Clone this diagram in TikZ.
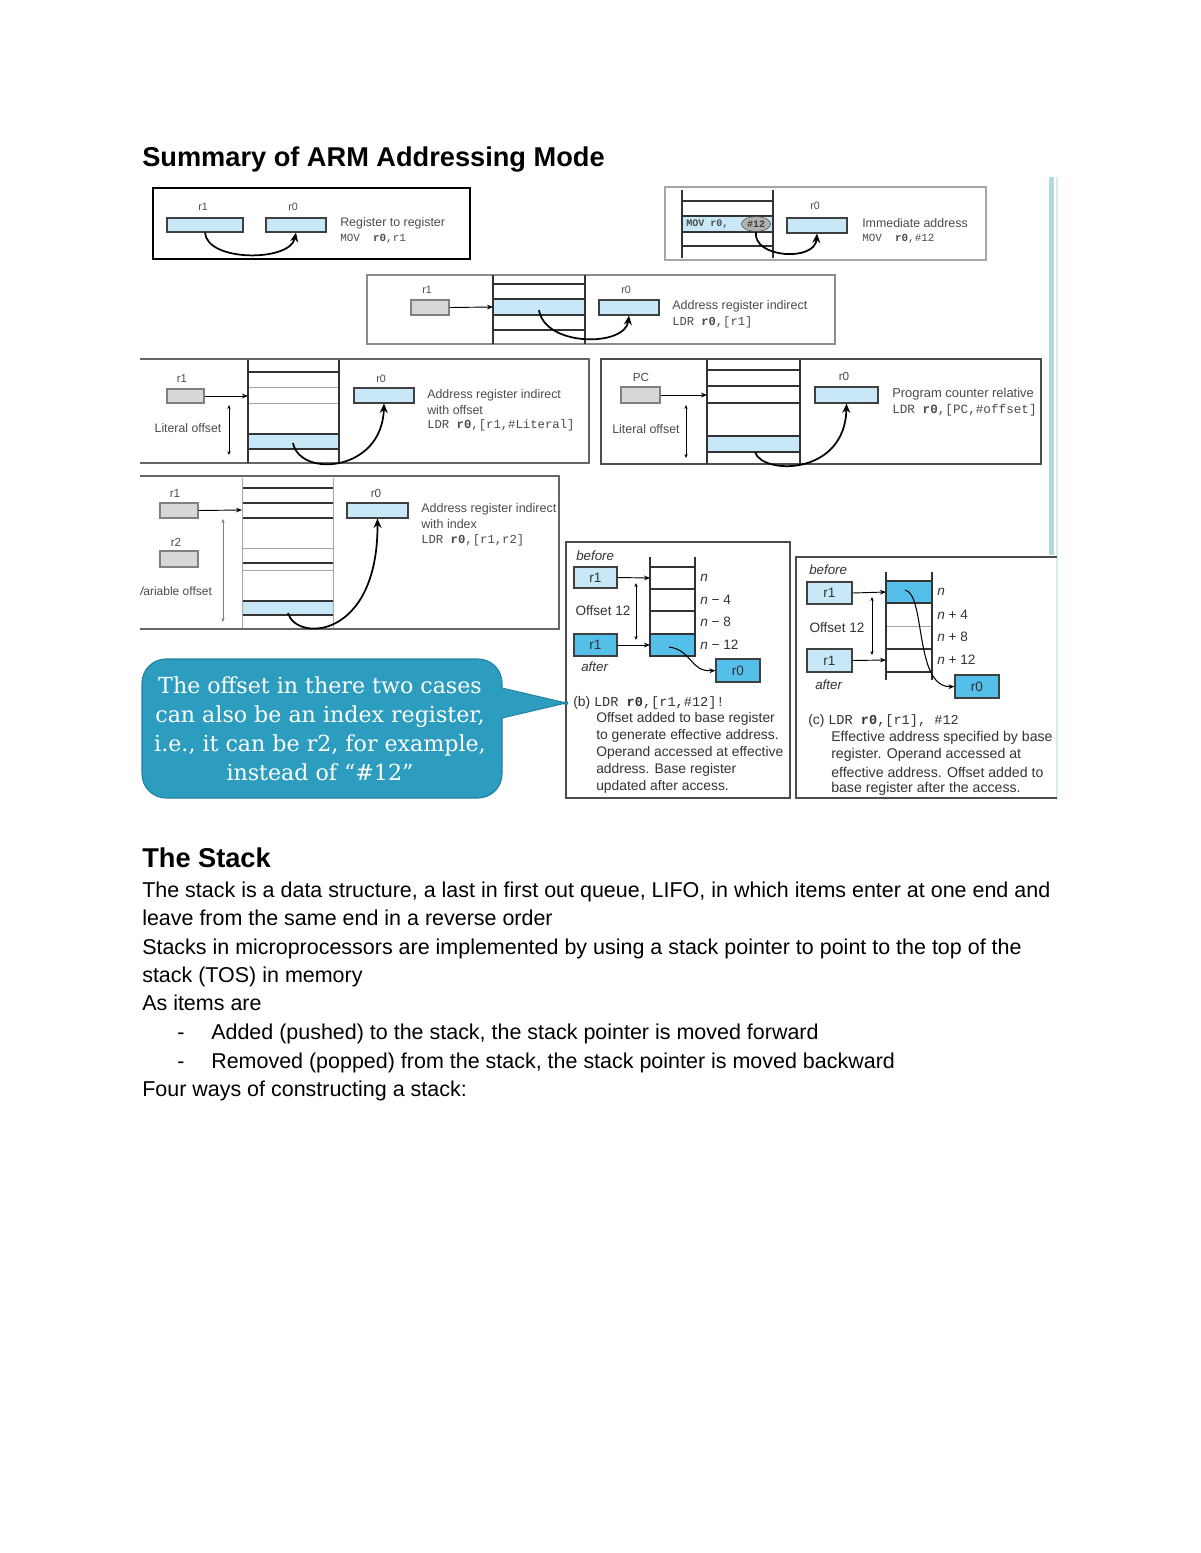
\documentclass[tikz,border=0pt]{standalone}
\usepackage{fontspec}
\newfontfamily\sa{Liberation Sans}
\newfontfamily\mo{Liberation Mono}
\newfontfamily\cs{DejaVu Serif}
\usetikzlibrary{arrows.meta,fit,shapes.geometric}
\definecolor{lb}{RGB}{200,232,248}
\definecolor{bb}{RGB}{84,192,234}
\definecolor{rg}{RGB}{215,215,215}
\definecolor{cal}{RGB}{44,157,191}
\definecolor{calb}{RGB}{34,130,160}
\definecolor{txt}{RGB}{75,75,75}
\definecolor{barc}{RGB}{178,216,226}
\definecolor{barl}{RGB}{214,236,242}
\tikzset{
 reg/.style={draw=black!75, line width=0.9pt, inner sep=0pt, fill=lb},
 greg/.style={reg, fill=rg, draw=black!50},
 breg/.style={reg, fill=bb},
 lbl/.style={inner sep=0pt, font=\sa\fontsize{8}{9}\selectfont, text=txt},
 desc/.style={anchor=west, inner sep=0pt, font=\sa\fontsize{9.3}{10}\selectfont, text=txt},
 code/.style={anchor=west, inner sep=0pt, font=\mo\fontsize{8.2}{10}\selectfont, text=txt},
 codeb/.style={code, font=\mo\fontsize{9.2}{10}\selectfont},
 bdesc/.style={anchor=west, inner sep=0pt, font=\sa\fontsize{10.4}{12}\selectfont, text=black!80},
 blbl/.style={lbl, font=\sa\fontsize{10.2}{11}\selectfont, text=black!80},
 memline/.style={line width=1.1pt, draw=black!80},
 thinmem/.style={line width=0.6pt, draw=black!35},
 curv/.style={line width=1.3pt, -{Stealth[length=7pt,width=6pt]}},
 ptr/.style={line width=0.7pt, -{Stealth[length=4.5pt,width=3.5pt]}},
 dbl/.style={line width=0.5pt, {Stealth[length=3pt,width=2.5pt]}-{Stealth[length=3pt,width=2.5pt]}},
 panelbox/.style={draw=black!60, line width=0.8pt},
 body/.style={anchor=base west, inner sep=0pt, font=\sa\fontsize{16.1}{19}\selectfont},
 head/.style={anchor=base west, inner sep=0pt, font=\sa\bfseries\fontsize{20.4}{24}\selectfont},
}
\begin{document}
\begin{tikzpicture}[x=0.75pt,y=-0.75pt]
\useasboundingbox (0,0) rectangle (1200,1553);
\fill[white] (0,0) rectangle (1200,1553);

% title
\node[head] (title) at (142,166) {Summary of ARM Addressing Mode};

% right bars
\fill[barc] (1049,177) rectangle (1054,555);
\draw[barl, line width=1.2pt] (1057,177) -- (1057,800);

% ---------- panel 1: register to register
\draw[draw=black, line width=1pt] (153,188) rectangle (470,259);
\node[lbl] (l1a) at (203,207) {r1};
\node[reg, fit={(167,218)(243,232)}] (R1a) {};
\node[lbl] (l0a) at (293,207) {r0};
\node[reg, fit={(266,218)(326,232)}] (R0a) {};
\draw[curv] (R1a.south) .. controls (207,262) and (290,262) .. (R0a.south);
\node[desc] (t1a) at (340,223) {Register to register};
\node[code] (c1a) at (340,239) {MOV\ \ \textbf{r0},r1};

% ---------- panel 2: immediate
\draw[panelbox, draw=black!35] (665,187) rectangle (986,260);
\fill[lb] (682,216) rectangle (773,232);
\foreach \yy in {201,216,232,246} \draw[memline] (682,\yy) -- (773,\yy);
\draw[memline] (682,190) -- (682,258);
\draw[memline] (773,190) -- (773,258);
\node[code, font=\mo\bfseries\fontsize{7.5}{9}\selectfont] (c2m) at (686,224) {MOV\ r0,};
\node[draw=black!70, fill=black!30, ellipse, inner sep=0.3pt, minimum width=22pt, minimum height=11pt, font=\mo\bfseries\fontsize{7.5}{9}\selectfont, text=black!75] (imm) at (756,224) {\#12};
\node[lbl] (l0b) at (815,206) {r0};
\node[reg, fit={(787,218)(847,233)}] (R0b) {};
\draw[curv] (imm.south) .. controls (752,258) and (815,262) .. (R0b.south);
\node[desc] (t2a) at (862,223) {Immediate address};
\node[code] (c2a) at (862,239) {MOV\ \ \textbf{r0},\#12};

% ---------- panel 3: address register indirect
\draw[panelbox, draw=black!45] (367,275) rectangle (835,344);
\fill[lb] (493,299) rectangle (585,315);
\foreach \yy in {284,299,315,330} \draw[memline] (493,\yy) -- (585,\yy);
\draw[memline] (493,275) -- (493,344);
\draw[memline] (585,275) -- (585,344);
\node[lbl] (l1c) at (427,290) {r1};
\node[greg, fit={(411,300)(449,315)}] (R1c) {};
\coordinate (m3) at (493,307);
\draw[ptr] (R1c.east) -- (m3);
\node[lbl] (l0c) at (626,290) {r0};
\node[reg, fit={(599,300)(659,315)}] (R0c) {};
\coordinate (s3) at (539,310);
\draw[curv] (s3) .. controls (545,347) and (625,347) .. (R0c.south);
\node[desc, font=\sa\fontsize{9.4}{10}\selectfont] (t3a) at (672,306) {Address register indirect};
\node[codeb, font=\mo\fontsize{9.1}{10}\selectfont] (c3a) at (672,322) {LDR \textbf{r0},[r1]};

% ---------- panel 4: indirect with offset
\draw[panelbox] (140,359) -- (589,359) -- (589,463) -- (140,463);
\fill[lb] (248,434) rectangle (339,449);
\foreach \yy in {372,434,449} \draw[memline] (248,\yy) -- (339,\yy);
\foreach \yy in {387,403} \draw[thinmem] (248,\yy) -- (339,\yy);
\draw[memline] (248,360) -- (248,463);
\draw[memline] (339,360) -- (339,463);
\node[lbl, font=\sa\fontsize{8.5}{9}\selectfont] (l1d) at (182,379) {r1};
\node[greg, fit={(167,389)(204,403)}] (R1d) {};
\coordinate (m4) at (248,396);
\draw[ptr] (R1d.east) -- (m4);
\coordinate (d4a) at (229,405); \coordinate (d4b) at (229,455);
\draw[dbl] (d4a) -- (d4b);
\node[lbl, font=\sa\fontsize{9.2}{9}\selectfont] (lo4) at (188,428) {Literal offset};
\node[lbl] (l0d) at (381,379) {r0};
\node[reg, fit={(354,388)(414,403)}] (R0d) {};
\coordinate (s4) at (293,443);
\draw[curv] (s4) .. controls (300,478) and (382,472) .. (R0d.south);
\node[desc] (t4a) at (427,395) {Address register indirect};
\node[desc] (t4b) at (427,410) {with offset};
\node[codeb] (c4a) at (427,425) {LDR \textbf{r0},[r1,\#Literal]};

% ---------- panel 5: PC relative
\draw[panelbox, draw=black!70] (601,359) rectangle (1041,464);
\fill[lb] (707,436) rectangle (800,452);
\foreach \yy in {370,386,403,436,452} \draw[memline] (707,\yy) -- (800,\yy);
\draw[memline] (707,360) -- (707,464);
\draw[memline] (800,360) -- (800,464);
\node[lbl, font=\sa\fontsize{8.8}{9}\selectfont] (lpc) at (641,377) {PC};
\node[greg, fit={(621,387)(660,403)}] (RPC) {};
\coordinate (m5) at (707,395);
\draw[ptr] (RPC.east) -- (m5);
\coordinate (d5a) at (686,405); \coordinate (d5b) at (686,458);
\draw[dbl] (d5a) -- (d5b);
\node[lbl, font=\sa\fontsize{9.3}{9}\selectfont] (lo5) at (646,429) {Literal offset};
\node[lbl, font=\sa\fontsize{8.8}{9}\selectfont] (l0e) at (844,376) {r0};
\node[reg, fit={(815,387)(878,403)}] (R0e) {};
\coordinate (s5) at (755,452);
\draw[curv] (s5) .. controls (762,475) and (845,476) .. (R0e.south);
\node[desc, font=\sa\fontsize{9.7}{10}\selectfont] (t5a) at (892,394) {Program counter relative};
\node[codeb, font=\mo\fontsize{9.5}{10}\selectfont] (c5a) at (892,410) {LDR \textbf{r0},[PC,\#offset]};

% ---------- panel 6: indirect with index
\draw[panelbox] (140,476) -- (559,476) -- (559,629) -- (140,629);
\fill[lb] (242,601) rectangle (333,615);
\foreach \yy in {488,503,518,563,601,615} \draw[memline] (242,\yy) -- (333,\yy);
\foreach \yy in {548,570} \draw[thinmem] (242,\yy) -- (333,\yy);
\draw[thinmem] (242,478) -- (242,628);
\draw[thinmem] (333,478) -- (333,628);
\node[lbl, font=\sa\fontsize{8.8}{9}\selectfont] (l1f) at (175,493) {r1};
\node[greg, fit={(160,503)(198,518)}] (R1f) {};
\coordinate (m6) at (242,510);
\draw[ptr] (R1f.east) -- (m6);
\node[lbl, font=\sa\fontsize{8.8}{9}\selectfont] (l2f) at (176,542) {r2};
\node[greg, fit={(160,551)(198,567)}] (R2f) {};
\coordinate (d6a) at (223,519); \coordinate (d6b) at (223,622);
\draw[dbl, draw=black!50, line width=0.4pt] (d6a) -- (d6b);
\begin{scope}
\clip (140,570) rectangle (240,610);
\node[lbl, anchor=west, font=\sa\fontsize{9}{9}\selectfont] (lo6) at (136,591) {Variable offset};
\end{scope}
\node[lbl, font=\sa\fontsize{8.8}{9}\selectfont] (l0f) at (376,493) {r0};
\node[reg, fit={(347,503)(408,518)}] (R0f) {};
\coordinate (s6) at (288,613);
\draw[curv] (s6) .. controls (296,642) and (378,640) .. (R0f.south);
\node[desc, font=\sa\fontsize{9.4}{10}\selectfont] (t6a) at (421,509) {Address register indirect};
\node[desc, font=\sa\fontsize{9.4}{10}\selectfont] (t6b) at (421,524) {with index};
\node[codeb] (c6a) at (421,540) {LDR \textbf{r0},[r1,r2]};

% ---------- panel (b)
\draw[draw=black!70, line width=1.1pt] (566,542) rectangle (790,798);
\node[blbl, anchor=west, font=\sa\itshape\fontsize{10}{11}\selectfont] (bfb) at (576,556) {before};
\node[reg, fit={(574,567)(617,588)}, label={[blbl]center:r1}] (Rb1) {};
\fill[bb] (650,634) rectangle (695,656);
\foreach \yy in {567,589,611,634,656} \draw[memline, line width=0.9pt] (650,\yy) -- (695,\yy);
\draw[memline, line width=0.9pt] (650,557) -- (650,657);
\draw[memline, line width=0.9pt] (695,557) -- (695,657);
\coordinate (mb1) at (650,578);
\coordinate (mb2) at (650,645);
\draw[ptr] (Rb1.east) -- (mb1);
\coordinate (db1) at (636,583); \coordinate (db2) at (636,640);
\draw[dbl] (db1) -- (db2);
\node[blbl] (ofb) at (603,611) {Offset 12};
\node[breg, fit={(574,634)(617,656)}, label={[blbl]center:r1}] (Rb2) {};
\draw[ptr] (Rb2.east) -- (mb2);
\node[blbl, anchor=west, font=\sa\itshape\fontsize{10}{11}\selectfont] (afb) at (581,667) {after};
\node[breg, fit={(716,659)(760,682)}, label={[blbl]center:r0}] (Rb0) {};
\coordinate (sb) at (669,647);
\draw[ptr, line width=0.8pt] (sb) .. controls (692,650) and (690,672) .. (Rb0.west);
\foreach \lab/\yy in {{\itshape n}/578,{\itshape n} − 4/600,{\itshape n} − 8/622,{\itshape n} − 12/645}
  \node[bdesc, font=\sa\fontsize{10.2}{11}\selectfont] at (700,\yy) {\lab};
\node[bdesc] (bt0) at (573,703) {(b) {\mo\fontsize{10.2}{11}\selectfont LDR \textbf{r0},[r1,\#12]!}};
\node[bdesc] (bt1) at (596,719) {Offset added to base register};
\node[bdesc] (bt2) at (596,736) {to generate effective address.};
\node[bdesc] (bt3) at (596,753) {Operand accessed at effective};
\node[bdesc] (bt4) at (596,770) {address. Base register};
\node[bdesc] (bt5) at (596,787) {updated after access.};

% ---------- panel (c)
\draw[draw=black!70, line width=1.1pt] (1057,557) -- (796,557) -- (796,798) -- (1057,798);
\node[blbl, anchor=west, font=\sa\itshape\fontsize{10}{11}\selectfont] (bfc) at (809,570) {before};
\node[reg, fit={(807,582)(852,604)}, label={[blbl]center:r1}] (Rc1) {};
\fill[bb] (886,581) rectangle (932,603);
\foreach \yy in {581,603,649,672} \draw[memline, line width=0.9pt] (886,\yy) -- (932,\yy);
\draw[thinmem] (886,626) -- (932,626);
\draw[memline, line width=0.9pt] (886,572) -- (886,680);
\draw[memline, line width=0.9pt] (932,572) -- (932,680);
\coordinate (mc1) at (886,592);
\coordinate (mc2) at (886,660);
\draw[ptr] (Rc1.east) -- (mc1);
\coordinate (dc1) at (872,597); \coordinate (dc2) at (872,655);
\draw[dbl] (dc1) -- (dc2);
\node[blbl] (ofc) at (837,628) {Offset 12};
\node[reg, fit={(807,649)(852,672)}, label={[blbl]center:r1}] (Rc2) {};
\draw[ptr] (Rc2.east) -- (mc2);
\node[blbl, anchor=west, font=\sa\itshape\fontsize{10}{11}\selectfont] (afc) at (815,685) {after};
\node[breg, fit={(955,675)(999,698)}, label={[blbl]center:r0}] (Rc0) {};
\coordinate (sc) at (905,590);
\draw[ptr, line width=0.8pt] (sc) .. controls (926,594) and (914,688) .. (Rc0.west);
\foreach \lab/\yy in {{\itshape n}/592,{\itshape n} + 4/615,{\itshape n} + 8/637,{\itshape n} + 12/660}
  \node[bdesc, font=\sa\fontsize{10.2}{11}\selectfont] at (937,\yy) {\lab};
\node[bdesc] (ct0) at (808,721) {(c) {\mo\fontsize{10.2}{11}\selectfont LDR \textbf{r0},[r1], \#12}};
\node[bdesc, font=\sa\fontsize{10.6}{12}\selectfont] (ct1) at (831,738) {Effective address specified by base};
\node[bdesc, font=\sa\fontsize{10.6}{12}\selectfont] (ct2) at (831,755) {register. Operand accessed at};
\node[bdesc, font=\sa\fontsize{10.6}{12}\selectfont] (ct3) at (831,772) {effective address. Offset added to};
\node[bdesc, font=\sa\fontsize{10.6}{12}\selectfont] (ct4) at (831,789) {base register after the access.};

% ---------- callout
\coordinate (tip) at (566,703);
\filldraw[fill=cal, draw=calb, line width=0.8pt, rounded corners=18pt] (142,659) rectangle (502,798);
\fill[cal] (500,688) -- (tip) -- (500,718) -- cycle;
\draw[calb, line width=0.8pt] (502,688) -- (tip) -- (502,718);
\fill[calb] (tip) circle (2.2);
\node[text=white, align=center, font=\cs\fontsize{16.6}{21.75}\selectfont, inner sep=0pt] (callout) at (320,728.5)
  {The offset in there two cases\\can also be an index register,\\i.e., it can be r2, for example,\\instead of “\#12”};

% ---------- The Stack
\node[head] (stack) at (142,867) {The Stack};
\node[body] (p1) at (142,897) {The stack is a data structure, a last in first out queue, LIFO, in which items enter at one end and};
\node[body] (p2) at (142,925) {leave from the same end in a reverse order};
\node[body] (p3) at (142,954) {Stacks in microprocessors are implemented by using a stack pointer to point to the top of the};
\node[body] (p4) at (142,982) {stack (TOS) in memory};
\node[body] (p5) at (142,1010) {As items are};
\node[body] (b1) at (177,1039) {-};
\node[body] (p6) at (211,1039) {Added (pushed) to the stack, the stack pointer is moved forward};
\node[body] (b2) at (177,1068) {-};
\node[body] (p7) at (211,1068) {Removed (popped) from the stack, the stack pointer is moved backward};
\node[body] (p8) at (142,1096) {Four ways of constructing a stack:};
\end{tikzpicture}
\end{document}
